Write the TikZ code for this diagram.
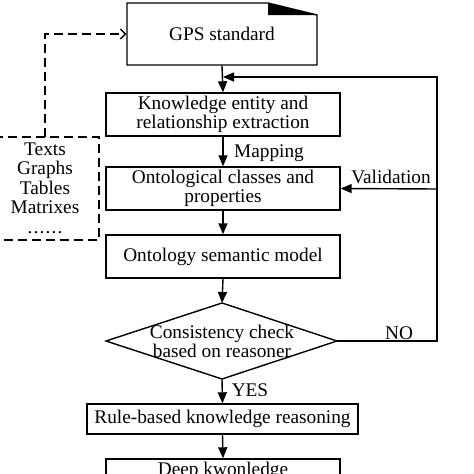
\documentclass[tikz,border=0pt]{standalone}
\usepackage{fontspec}
\setmainfont{Liberation Serif}
\usetikzlibrary{arrows.meta}
\begin{document}
\begin{tikzpicture}[x=1pt,y=-1pt,
  line width=1.4pt,
  font=\fontsize{19.3}{19.5}\selectfont,
  box/.style={draw, minimum width=234pt, minimum height=43pt, inner sep=0pt, align=center},
  arr/.style={-{Triangle[length=11pt,width=9pt]}},
  lbl/.style={inner sep=0pt, align=center},
  dsh/.style={dash pattern=on 9pt off 5pt}]
\useasboundingbox (0,0) rectangle (474,474);
\fill[white] (0,0) rectangle (474,474);
\clip (0,0) rectangle (474,474);
% GPS standard (document shape)
\node[lbl, minimum width=190pt, minimum height=62pt] (gps) at (222,34) {GPS standard};
\draw (127,3) -- (268,3) -- (317,15) -- (317,65) -- (127,65) -- cycle;
\fill (268,3) -- (268,15) -- (317,15) -- cycle;
% boxes
\node[box] (ke) at (223,114.5) {Knowledge entity and\\relationship extraction};
\node[box] (oc) at (223,188.5) {Ontological classes and\\properties};
\node[box] (osm) at (223,256.5) {Ontology semantic model};
% diamond
\coordinate (dt) at (222,303);
\coordinate (dr) at (337,341);
\coordinate (db) at (222,379);
\coordinate (dl) at (106,341);
\draw (dt) -- (dr) -- (db) -- (dl) -- cycle;
\node[lbl] (dia) at (222,341.5) {Consistency check\\based on reasoner};
\node[box, minimum width=271pt, minimum height=30pt] (rule) at (222.5,419) {Rule-based knowledge reasoning};
\node[box] (deep) at (223,480.5) {Deep kwonledge\\\phantom{p}};
% source box
\draw[dsh] (-20,137) -- (99,137) -- (99,240) -- (-20,240);
\node[lbl] (src) at (45,188) {Texts\\Graphs\\Tables\\Matrixes\\.\kern1.2pt.\kern1.2pt.\kern1.2pt.\kern1.2pt.\kern1.2pt.};
\coordinate (srctop) at (45,137);
\draw[dsh, -{Straight Barb[length=5pt,width=10pt]}] (srctop) -- (45,34) -- (gps.west);
% main flow
\draw[arr] (gps.south) -- (ke.north);
\draw[arr] (ke.south) -- (oc.north);
\draw[arr] (oc.south) -- (osm.north);
\draw[arr] (osm.south) -- (dt);
\draw[arr] (db) -- (rule.north);
\draw[arr] (rule.south) -- (deep.north);
% feedback
\coordinate (corner1) at (437,341);
\coordinate (corner2) at (437,77);
\coordinate (join) at (223,77);
\coordinate (valsrc) at (437,189);
\draw[arr] (dr) -- (corner1) -- (corner2) -- (join);
\draw[arr] (valsrc) -- (oc.east);
% labels
\node[lbl] (lmap) at (269,153) {Mapping};
\node[lbl] (lval) at (391,177) {Validation};
\node[lbl] (lno) at (399,333) {NO};
\node[lbl] (lyes) at (250,390) {YES};
\end{tikzpicture}
\end{document}
